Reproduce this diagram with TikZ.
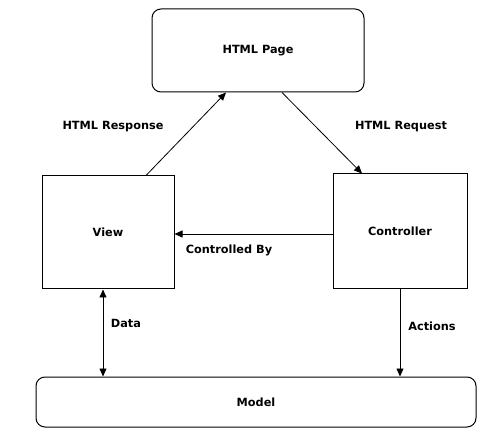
\documentclass[tikz,border=0pt]{standalone}
\usepackage{fontspec}
\setmainfont{DejaVu Sans}
\usetikzlibrary{arrows.meta}
\tikzset{
	box/.style={draw,line width=1pt,font=\bfseries,inner sep=0pt},
	roundbox/.style={box,rounded corners=9pt},
	flow/.style={line width=.8pt,-{Triangle[length=8pt,width=7pt]}},
	both/.style={line width=.8pt,{Triangle[length=8pt,width=7pt]}-{Triangle[length=8pt,width=7pt]}},
	tag/.style={font=\bfseries}
}
\begin{document}
\fontsize{11.3pt}{13pt}\selectfont
\begin{tikzpicture}[x=1pt,y=-1pt]
	\useasboundingbox (0,0) rectangle (480,433);
	\node[roundbox,minimum width=212pt,minimum height=83pt] (page) at (258,50.5) {HTML Page};
	\node[box,minimum width=132pt,minimum height=113pt] (view) at (108,232.5) {View};
	\node[box,minimum width=134pt,minimum height=115pt] (ctrl) at (400,231.5) {Controller};
	\node[roundbox,minimum width=440pt,minimum height=50pt] (model) at (256,402) {Model};
	% arrows
	\coordinate (vs) at ([xshift=-5pt]view.south);
	\draw[flow] ([xshift=38pt]view.north) -- ([xshift=-32pt]page.south);
	\draw[flow] ([xshift=24pt]page.south) -- ([xshift=-38pt]ctrl.north);
	\draw[flow] ([yshift=-2.5pt]ctrl.west) -- ([yshift=-1.5pt]view.east);
	\draw[both] (vs) -- (vs |- model.north);
	\draw[flow] (ctrl.south) -- (ctrl.south |- model.north);
	% labels
	\node[tag] (resp) at (113,127) {HTML Response};
	\node[tag] (req) at (401,127) {HTML Request};
	\node[tag] (by) at (229,250) {Controlled By};
	\node[tag] (data) at (126,323) {Data};
	\node[tag] (act) at (432,326) {Actions};
\end{tikzpicture}
\end{document}
